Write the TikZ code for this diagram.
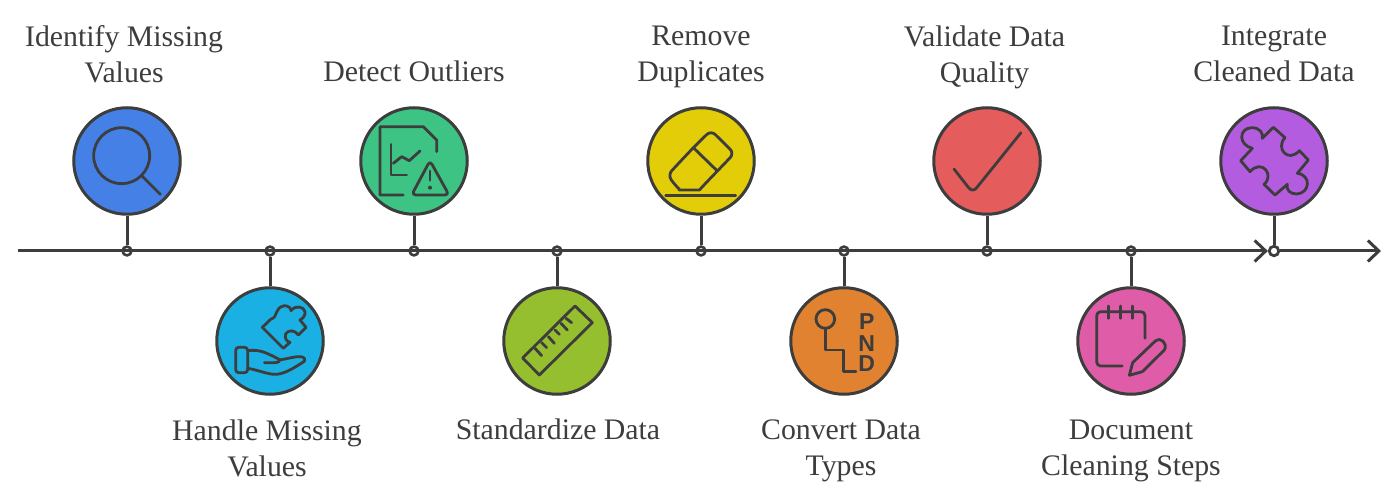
\documentclass[tikz,border=0pt]{standalone}
\usepackage{fontspec}
\setmainfont{Liberation Serif}
\newfontfamily\iconfont{Liberation Sans}
\usetikzlibrary{arrows.meta}
\definecolor{ink}{HTML}{3D3D3D}
\definecolor{cblue}{HTML}{4480E6}
\definecolor{ccyan}{HTML}{1AB0E4}
\definecolor{cgreen}{HTML}{3DC484}
\definecolor{clime}{HTML}{95BF2E}
\definecolor{cyellow}{HTML}{E3CD08}
\definecolor{corange}{HTML}{E08230}
\definecolor{cred}{HTML}{E55C5C}
\definecolor{cpink}{HTML}{DE5CA8}
\definecolor{cpurple}{HTML}{B45CE0}
\tikzset{
  disc/.style={circle,draw=ink,line width=3pt,minimum size=106.5pt,inner sep=0pt,fill=#1},
  dot/.style={circle,draw=ink,line width=2.6pt,minimum size=8.8pt,inner sep=0pt},
  enddot/.style={circle,draw=ink,line width=2.8pt,minimum size=9.5pt,inner sep=0pt,fill=white},
  link/.style={draw=ink,line width=3pt},
  icon/.style={draw=ink,line width=2.8pt,line cap=round,line join=round},
  label/.style={text=ink,align=center,anchor=north,font=\fontsize{29.8}{36}\selectfont,inner sep=0pt,execute at begin node=\strut},
  letter/.style={text=ink,font=\iconfont\bfseries\fontsize{23}{23}\selectfont,inner sep=0pt},
  barb/.style={-{Straight Barb[length=11pt,width=21pt,line width=3pt]}}
}
\begin{document}
\begin{tikzpicture}[x=1pt,y=-1pt]
\useasboundingbox (0,0) rectangle (1400,502);
\coordinate (start) at (18,251);
\coordinate (end) at (1381,251);
% dots
\foreach \n/\x in {1/127,2/270,3/414,4/557,5/701,6/844,7/987,8/1131}{
  \node[dot] (d\n) at (\x,251) {};
}
\node[enddot] (d9) at (1274,251) {};
\draw[link,barb] (start) -- (d9);
\draw[link,barb] (d9) -- (end);
% discs
\node[disc=cblue] (c1) at (127,161) {};
\node[disc=ccyan] (c2) at (270,341) {};
\node[disc=cgreen] (c3) at (414,161) {};
\node[disc=clime] (c4) at (557,341) {};
\node[disc=cyellow] (c5) at (701,161) {};
\node[disc=corange] (c6) at (844,341) {};
\node[disc=cred] (c7) at (987,161) {};
\node[disc=cpink] (c8) at (1131,341) {};
\node[disc=cpurple] (c9) at (1274,161) {};
\foreach \n in {1,...,9}{ \draw[link] (c\n) -- (d\n); }
% labels
\node[label] (t1) at (124,25.8) {Identify Missing\\Values};
\node[label] (t2) at (267,419.8) {Handle Missing\\Values};
\node[label] (t3) at (414,55.8) {Detect Outliers};
\node[label] (t4) at (558,413.8) {Standardize Data};
\node[label] (t5) at (701,25.8) {Remove\\Duplicates};
\node[label] (t6) at (841,419.8) {Convert Data\\Types};
\node[label] (t7) at (984.5,25.8) {Validate Data\\Quality};
\node[label] (t8) at (1131,419.8) {Document\\Cleaning Steps};
\node[label] (t9) at (1274,25.8) {Integrate\\Cleaned Data};
% icon 1: magnifier
\begin{scope}[shift={(127,161)},scale=1/3,icon]
\draw (-16,-16) circle (84);
\draw (45,45) -- (100,100);
\end{scope}
% icon 2: hand and puzzle piece
\begin{scope}[shift={(205,240)},scale=1/3,icon]
\draw[rounded corners=3pt] (92,322) rectangle (128,398);
\draw (128,332) .. controls (160,328) and (180,335) .. (222,358) .. controls (228,368) and (215,369) .. (178,368);
\draw (222,360) .. controls (255,355) and (275,348) .. (288,350) .. controls (298,352) and (303,358) .. (298,364) .. controls (265,385) and (235,405) .. (205,403) .. controls (180,400) and (150,388) .. (128,385);
\draw (172,262) -- (197,238) .. controls (222,230) and (205,205) .. (238,197) .. controls (250,197) and (258,205) .. (258,212) .. controls (272,194) and (297,200) .. (300,215) .. controls (302,228) and (292,236) .. (285,240) -- (303,262) -- (280,285) .. controls (270,270) and (250,268) .. (242,282) .. controls (238,295) and (245,305) .. (255,307) -- (235,325) -- cycle;
\end{scope}
% icon 3: chart and warning
\begin{scope}[shift={(350,95)},scale=1/3,icon]
\draw (160,300) -- (90,300) -- (90,95) -- (220,95) -- (260,135) -- (260,170);
\draw (123,148) -- (123,240) -- (170,240);
\draw (130,205) -- (155,185) -- (178,197) -- (210,168);
\draw[rounded corners=4pt] (240,197) -- (297,300) -- (185,300) -- cycle;
\draw (240,228) -- (240,256);
\fill[ink,draw=none] (240,278) circle (6);
\end{scope}
% icon 4: ruler
\begin{scope}[shift={(495,240)},scale=1/3,icon]
\draw (240,198) -- (292,248) -- (133,405) -- (83,354) -- cycle;
\draw (120,325) -- (140,347);
\draw (140,308) -- (155,323);
\draw (160,290) -- (178,310);
\draw (180,270) -- (193,283);
\draw (198,250) -- (217,270);
\draw (213,235) -- (230,248);
\end{scope}
% icon 5: eraser
\begin{scope}[shift={(635,95)},scale=1/3,icon]
\draw[rounded corners=6pt] (175,158) -- (228,106) -- (298,175) -- (205,272) .. controls (195,283) and (185,285) .. (175,285) -- (150,285) .. controls (135,285) and (128,278) .. (120,270) -- (98,240) -- cycle;
\draw (175,158) -- (247,228);
\draw (92,301) -- (302,301);
\end{scope}
% icon 6: gear shift
\begin{scope}[shift={(780,240)},scale=1/3,icon]
\draw (136,237) circle (28);
\draw (136,265) -- (136,330) -- (190,330) -- (190,395) -- (228,395);
\node[letter] (p) at (260,246) {P};
\node[letter] (n) at (260,311) {N};
\node[letter] (dd) at (260,372) {D};
\end{scope}
% icon 7: check
\begin{scope}[shift={(925,95)},scale=1/3,icon]
\draw (87,222) -- (130,277) .. controls (138,288) and (148,288) .. (156,277) -- (288,113);
\end{scope}
% icon 8: notepad and pencil
\begin{scope}[shift={(1065,240)},scale=1/3,icon]
\draw[rounded corners=4pt] (172,378) -- (95,378) -- (95,215) -- (240,215) -- (240,295);
\draw (130,198) -- (130,235);
\draw (166,198) -- (166,235);
\draw (202,198) -- (202,235);
\draw (193,406) -- (203,368) -- (272,302) .. controls (285,290) and (310,310) .. (298,330) -- (232,395) -- cycle;
\end{scope}
% icon 9: puzzle piece
\begin{scope}[shift={(1210,95)},scale=1/3,icon]
\draw (127,160) .. controls (85,150) and (85,100) .. (125,98) .. controls (150,98) and (160,115) .. (157,130) -- (190,97) -- (225,128) .. controls (195,160) and (235,205) .. (268,167) -- (295,195) -- (262,235) .. controls (305,240) and (300,295) .. (260,297) .. controls (240,297) and (228,285) .. (232,268) -- (195,300) -- (162,268) .. controls (195,240) and (155,190) .. (120,230) -- (92,197) -- cycle;
\end{scope}
\end{tikzpicture}
\end{document}
